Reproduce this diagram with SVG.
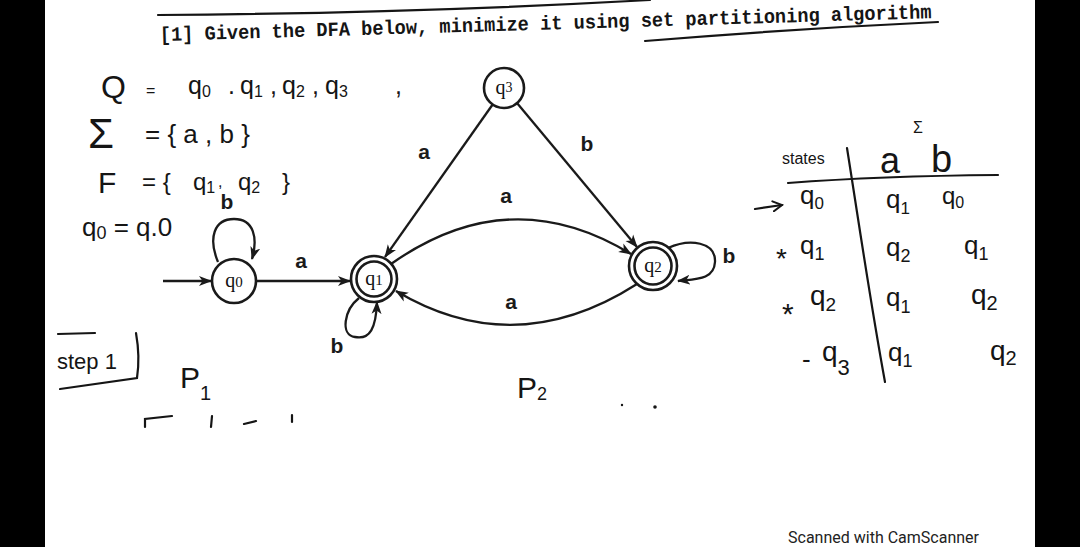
<svg xmlns="http://www.w3.org/2000/svg" width="1080" height="547" viewBox="0 0 1080 547">
  <defs>
    <marker id="ah" markerUnits="userSpaceOnUse" markerWidth="13" markerHeight="11" refX="12" refY="5.5" orient="auto">
      <path d="M0,0.5 L13,5.5 L0,10.5 L3.5,5.5 z" fill="#1a1a1a"/>
    </marker>
    <marker id="hh" markerUnits="userSpaceOnUse" markerWidth="12" markerHeight="12" refX="10" refY="6" orient="auto">
      <path d="M1,1 L10,6 L1,11" fill="none" stroke="#151515" stroke-width="2" stroke-linecap="round"/>
    </marker>
  </defs>
  <style>
    .ink{fill:#151515}
    .hand{font-family:"Liberation Sans",Arial,sans-serif;fill:#151515}
    .node{fill:#fff;stroke:#1a1a1a;stroke-width:2.6}
    .nlab{font-family:"Liberation Serif","Times New Roman",serif;font-size:20px;fill:#111;text-anchor:middle}
    .edge{fill:none;stroke:#1a1a1a;stroke-width:2.3;marker-end:url(#ah)}
    .elab{font-family:"Liberation Sans",Arial,sans-serif;font-weight:bold;font-size:21px;fill:#1a1a1a;text-anchor:middle}
    .pen{fill:none;stroke:#151515;stroke-width:2.2;stroke-linecap:round}
  </style>

  <rect x="0" y="0" width="1080" height="547" fill="#000"/>
  <rect x="45" y="0" width="990" height="547" fill="#fff"/>

  <!-- header -->
  <g id="header">
    <path class="pen" d="M158,15 Q420,13 650,0" stroke-width="1.8"/>
    <text x="160" y="41" transform="rotate(-1.7 160 41)" font-family="Liberation Mono,Courier New,monospace" font-weight="bold" font-size="20" textLength="772" lengthAdjust="spacingAndGlyphs" class="ink">[1] Given the DFA below, minimize it using set partitioning algorithm</text>
    <path class="pen" d="M645,41 Q790,29 938,22" stroke-width="2.4"/>
  </g>

  <!-- handwritten definitions -->
  <g id="definitions" class="hand">
    <text x="101" y="98" font-size="32">Q</text>
    <text x="146" y="96" font-size="16">=</text>
    <text y="94" font-size="25"><tspan x="188">q</tspan><tspan font-size="16" dy="3">0</tspan><tspan x="228" dy="-3">.</tspan><tspan x="240">q</tspan><tspan font-size="16" dy="3">1</tspan><tspan x="270" dy="-3">,</tspan><tspan x="282">q</tspan><tspan font-size="16" dy="3">2</tspan><tspan x="312" dy="-3">,</tspan><tspan x="325">q</tspan><tspan font-size="16" dy="3">3</tspan><tspan x="395" dy="-3">,</tspan></text>
    <text x="88" y="148" font-size="42">Σ</text>
    <text x="145" y="143" font-size="26">= { a , b }</text>
    <text x="98" y="193" font-size="30">F</text>
    <text y="190" font-size="24"><tspan x="142">= {</tspan><tspan x="193">q</tspan><tspan font-size="16" dy="3">1</tspan><tspan x="218" dy="-6" font-size="16">,</tspan><tspan x="238" dy="3">q</tspan><tspan font-size="16" dy="3">2</tspan><tspan x="282" dy="-3">}</tspan></text>
    <text y="236" font-size="26"><tspan x="82">q</tspan><tspan font-size="18" dy="3">0</tspan><tspan dy="-3"> = q.0</tspan></text>
  </g>

  <!-- connectors -->
  <g id="connectors">
    <path class="edge" d="M163,281 L211,281"/>
    <path class="edge" d="M256,281 L350,281"/>
    <path class="edge" d="M218,262 C208,238 214,219 234,219 C254,219 258,238 252,259"/>
    <path class="edge" d="M359,298 C344,310 340,335 355,337 C370,340 376,328 377,302"/>
    <path class="edge" d="M493,104 L385,257"/>
    <path class="edge" d="M517,103 L637,247"/>
    <path class="edge" d="M391,264 Q510,180 631,254"/>
    <path class="edge" d="M637,284 Q515,362 396,291"/>
    <path class="edge" d="M668,248 C690,238 716,242 715,262 C714,280 696,279 678,281"/>
  </g>

  <g id="edge-labels">
    <text class="elab" x="301" y="268">a</text>
    <text class="elab" x="227" y="209">b</text>
    <text class="elab" x="337" y="353">b</text>
    <text class="elab" x="424" y="159">a</text>
    <text class="elab" x="587" y="151">b</text>
    <text class="elab" x="506" y="203">a</text>
    <text class="elab" x="511" y="309">a</text>
    <text class="elab" x="729" y="263">b</text>
  </g>

  <!-- nodes -->
  <g id="q0">
    <circle class="node" cx="234" cy="281" r="22"/>
    <text class="nlab" x="234" y="287">q<tspan font-size="15">0</tspan></text>
  </g>
  <g id="q1">
    <circle class="node" cx="374" cy="279" r="23"/>
    <circle class="node" cx="374" cy="279" r="17.5" stroke-width="2"/>
    <text class="nlab" x="374" y="285">q<tspan font-size="15">1</tspan></text>
  </g>
  <g id="q2">
    <circle class="node" cx="653" cy="266" r="24"/>
    <circle class="node" cx="653" cy="266" r="18.5" stroke-width="2"/>
    <text class="nlab" x="653" y="272">q<tspan font-size="15">2</tspan></text>
  </g>
  <g id="q3">
    <circle class="node" cx="504" cy="88" r="20"/>
    <text class="nlab" x="504" y="94">q<tspan font-size="14" dy="-2">3</tspan></text>
  </g>

  <!-- transition table -->
  <g id="table" class="hand">
    <text x="918" y="133" font-size="16" text-anchor="middle">Σ</text>
    <text x="782" y="164" font-size="16">states</text>
    <text x="880" y="173" font-size="36">a</text>
    <text x="931" y="172" font-size="38">b</text>
    <path class="pen" d="M788,183 Q880,176 998,175"/>
    <path class="pen" d="M847,148 C860,230 870,300 885,382"/>

    <path class="pen" d="M755,209 L782,205" marker-end="url(#hh)"/>
    <text y="204" font-size="26"><tspan x="800">q</tspan><tspan font-size="17" dy="5">0</tspan></text>
    <text y="208" font-size="26"><tspan x="886">q</tspan><tspan font-size="17" dy="6">1</tspan></text>
    <text y="204" font-size="24"><tspan x="942">q</tspan><tspan font-size="16" dy="4">0</tspan></text>

    <text x="776" y="268" font-size="28">*</text>
    <text y="254" font-size="26"><tspan x="800">q</tspan><tspan font-size="18" dy="6">1</tspan></text>
    <text y="256" font-size="26"><tspan x="886">q</tspan><tspan font-size="18" dy="6">2</tspan></text>
    <text y="254" font-size="26"><tspan x="964">q</tspan><tspan font-size="18" dy="6">1</tspan></text>

    <text x="782" y="324" font-size="30">*</text>
    <text y="305" font-size="28"><tspan x="810">q</tspan><tspan font-size="19" dy="6">2</tspan></text>
    <text y="306" font-size="26"><tspan x="886">q</tspan><tspan font-size="18" dy="7">1</tspan></text>
    <text y="304" font-size="28"><tspan x="971">q</tspan><tspan font-size="20" dy="6">2</tspan></text>

    <text x="802" y="368" font-size="26">-</text>
    <text y="361" font-size="28"><tspan x="822">q</tspan><tspan font-size="22" dy="14">3</tspan></text>
    <text y="361" font-size="26"><tspan x="888">q</tspan><tspan font-size="18" dy="6">1</tspan></text>
    <text y="360" font-size="28"><tspan x="990">q</tspan><tspan font-size="20" dy="5">2</tspan></text>
  </g>

  <!-- step 1 -->
  <g id="step1" class="hand">
    <path class="pen" d="M58,334 L95,333" stroke-width="1.8"/>
    <text x="57" y="369" font-size="22">step 1</text>
    <path class="pen" d="M136,333 C139,350 139,365 137,378 L60,389"/>
    <text y="388" font-size="30"><tspan x="180">P</tspan><tspan font-size="20" dy="12">1</tspan></text>
    <text y="398" font-size="30"><tspan x="517">P</tspan><tspan font-size="18" dy="2">2</tspan></text>
    <path class="pen" d="M145,427 L145,419 L172,416"/>
    <path class="pen" d="M212,416 L211,427"/>
    <path class="pen" d="M244,424 L256,421"/>
    <path class="pen" d="M292,415 L292,422"/>
    <circle cx="622" cy="405" r="1.2" class="ink"/>
    <circle cx="655" cy="407" r="1.8" class="ink"/>
  </g>

  <text x="788" y="543" font-family="Roboto,'Liberation Sans',sans-serif" font-size="16" fill="#222">Scanned with CamScanner</text>
</svg>
